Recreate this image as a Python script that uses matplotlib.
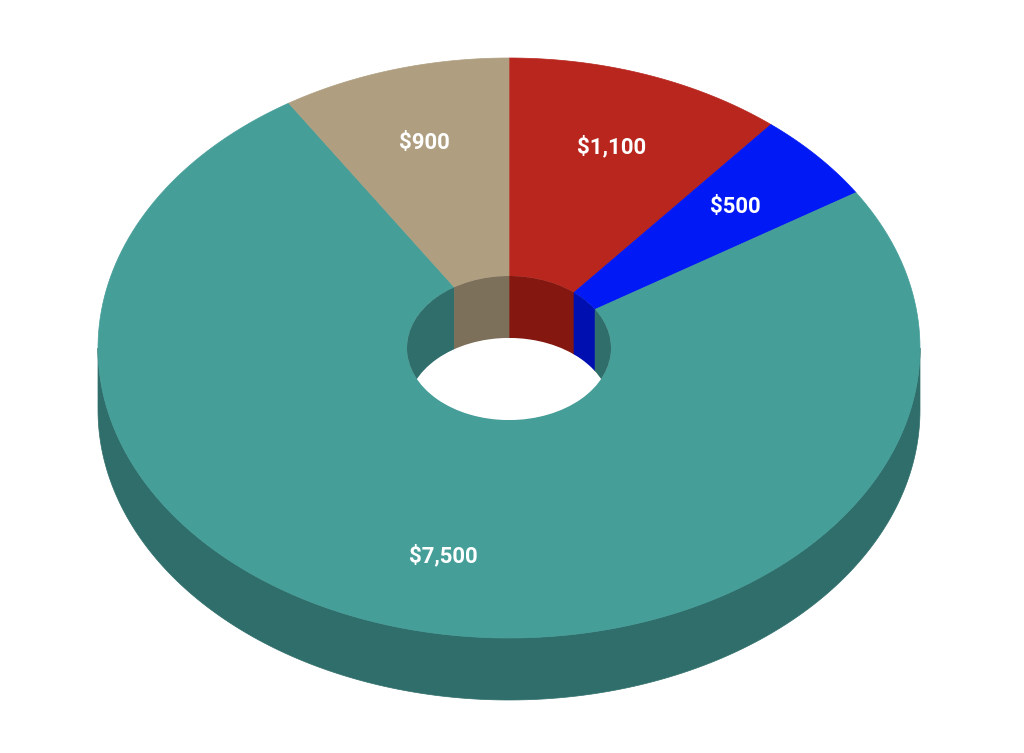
import numpy as np
import matplotlib.pyplot as plt
from matplotlib.patches import Polygon, Ellipse

labels = ['$1,100', '$500', '$7,500', '$900']
values = [1100, 500, 7500, 900]
top_colors = ['#B8261E', '#0019F5', '#469E99', '#AF9F80']
side_colors = ['#84170F', '#0010B0', '#2F6E6A', '#7D705B']

cx, cy = 509, 348
rx, ry = 411, 290
irx, iry = 102, 72
depth = 62
label_r = 0.735

fig = plt.figure(figsize=(10.24, 7.53), dpi=100)
ax = fig.add_axes([0, 0, 1, 1])
ax.set_xlim(0, 1024)
ax.set_ylim(753, 0)
ax.axis('off')


def pts(a0, a1, sx, sy, dy=0, n=200):
    t = np.radians(np.linspace(a0, a1, n))
    return np.column_stack([cx + sx * np.cos(t), cy - sy * np.sin(t) + dy])


# slice angles, clockwise from the top
total = sum(values)
ends = 90 - 360 * np.cumsum(values) / total
starts = np.concatenate([[90], ends[:-1]])

# outer side wall (front half only)
for a0, a1, c in zip(starts, ends, side_colors):
    for lo, hi in [(-180, 0), (-540, -360)]:
        s, e = min(a0, hi), max(a1, lo)
        if s > e:
            top = pts(s, e, rx, ry)
            bot = pts(e, s, rx, ry, depth)
            ax.add_patch(Polygon(np.vstack([top, bot]), closed=True, fc=c, ec=c, lw=0.5))

# top faces
for a0, a1, c in zip(starts, ends, top_colors):
    outer = pts(a0, a1, rx, ry)
    inner = pts(a1, a0, irx, iry)
    ax.add_patch(Polygon(np.vstack([outer, inner]), closed=True, fc=c, ec=c, lw=0.5))

# inner wall of the hole (back half), clipped to the hole
hole = Ellipse((cx, cy), 2 * irx, 2 * iry, fc='none', ec='none')
ax.add_patch(hole)
for a0, a1, c in zip(starts, ends, side_colors):
    for lo, hi in [(0, 180), (-360, -180)]:
        s, e = min(a0, hi), max(a1, lo)
        if s > e:
            top = pts(s, e, irx, iry)
            bot = pts(e, s, irx, iry, depth)
            p = Polygon(np.vstack([top, bot]), closed=True, fc=c, ec=c, lw=0.5)
            ax.add_patch(p)
            p.set_clip_path(hole)
white = Ellipse((cx, cy + depth), 2 * irx, 2 * iry, fc='white', ec='none')
ax.add_patch(white)
white.set_clip_path(hole)

# labels
for a0, a1, lab in zip(starts, ends, labels):
    m = np.radians((a0 + a1) / 2)
    ax.text(cx + rx * label_r * np.cos(m), cy - ry * label_r * np.sin(m), lab,
            color='white', fontsize=16, fontweight='bold', family='Roboto',
            ha='center', va='center')

fig.savefig('out.png', dpi=100)
